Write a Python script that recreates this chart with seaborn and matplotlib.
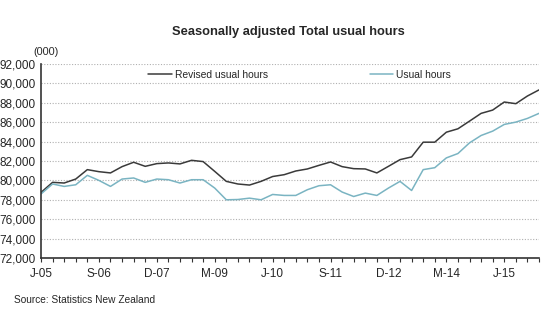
import numpy as np
import pandas as pd
import matplotlib
matplotlib.use("Agg")
import matplotlib.pyplot as plt
from matplotlib.ticker import FuncFormatter, MultipleLocator
import seaborn as sns

# quarterly, Jun 2005 - Mar 2016 (000 hours)
quarters = pd.period_range("2005Q2", periods=44, freq="Q")

revised_hours = [
    78760, 79800, 79730, 80140, 81110, 80900, 80770, 81420, 81870, 81450,
    81730, 81800, 81700, 82070, 81940, 80930, 79900, 79630, 79520, 79900,
    80400, 80590, 80970, 81180, 81550, 81900, 81420, 81210, 81180, 80770,
    81450, 82140, 82420, 83940, 83940, 84970, 85320, 86110, 86910, 87250,
    88080, 87910, 88700, 89330,
]
usual_hours = [
    78600, 79630, 79380, 79550, 80520, 80000, 79380, 80140, 80250, 79800,
    80140, 80070, 79730, 80070, 80070, 79210, 78000, 78030, 78170, 78000,
    78550, 78450, 78450, 79040, 79450, 79550, 78800, 78340, 78690, 78450,
    79210, 79900, 78960, 81110, 81310, 82320, 82770, 83870, 84630, 85080,
    85770, 86010, 86390, 86910,
]

series_names = ["Revised usual hours", "Usual hours"]
colors = ["#3a3a3a", "#7ab4c2"]

df = pd.DataFrame({
    "pos": np.arange(len(quarters)),
    series_names[0]: revised_hours,
    series_names[1]: usual_hours,
}).melt(id_vars="pos", var_name="series", value_name="hours")

sns.set_style("white")
plt.rcParams["font.family"] = ["Liberation Sans", "DejaVu Sans"]

fig = plt.figure(figsize=(5.56, 3.19), dpi=100)
ax = fig.add_axes([41 / 556, 1 - 258 / 319, 498 / 556, 194 / 319])

sns.lineplot(data=df, x="pos", y="hours", hue="series", hue_order=series_names,
             palette=colors, linewidth=1.1, ax=ax)

ax.set_xlim(0, len(quarters) - 1)
ax.set_ylim(72000, 92000)
ax.yaxis.set_major_locator(MultipleLocator(2000))
ax.yaxis.set_major_formatter(FuncFormatter(lambda v, p: f"{int(v):,}"))
ax.grid(axis="y", color="#b0b0b0", linestyle=(0, (1, 1.5)), linewidth=0.8)
ax.set_axisbelow(True)

# labels every 5 quarters, tick marks every quarter
major = np.arange(0, len(quarters), 5)
ax.set_xticks(major)
ax.set_xticklabels([f"{quarters[i].strftime('%b')[0]}-{quarters[i].strftime('%y')}" for i in major])
ax.set_xticks(np.arange(len(quarters)), minor=True)
ax.tick_params(axis="x", which="both", direction="out", length=3, width=0.8,
               color="#333333", labelsize=8.5, pad=4, bottom=True)
ax.tick_params(axis="y", length=0, labelsize=8.5, pad=4)

for s in ["top", "right"]:
    ax.spines[s].set_visible(False)
for s in ["left", "bottom"]:
    ax.spines[s].set_color("#333333")
    ax.spines[s].set_linewidth(1.2)

ax.set_xlabel("")
ax.set_ylabel("")

ax.legend(loc="center left", bbox_to_anchor=(148 / 556, 1 - 75 / 319),
          bbox_transform=fig.transFigure, ncol=2, frameon=False,
          fontsize=7.4, handlelength=2.3, columnspacing=9.9, handletextpad=0.3,
          borderpad=0, borderaxespad=0)

fig.text(288 / 556, 1 - 32 / 319, "Seasonally adjusted Total usual hours", ha="center",
         va="center", fontsize=9.3, fontweight="bold")
fig.text(33 / 556, 1 - 52 / 319, "(000)", ha="left", va="center", fontsize=7.8)
fig.text(14 / 556, 1 - 300 / 319, "Source: Statistics New Zealand", ha="left",
         va="center", fontsize=7.3)

fig.savefig("out.png", dpi=100)
